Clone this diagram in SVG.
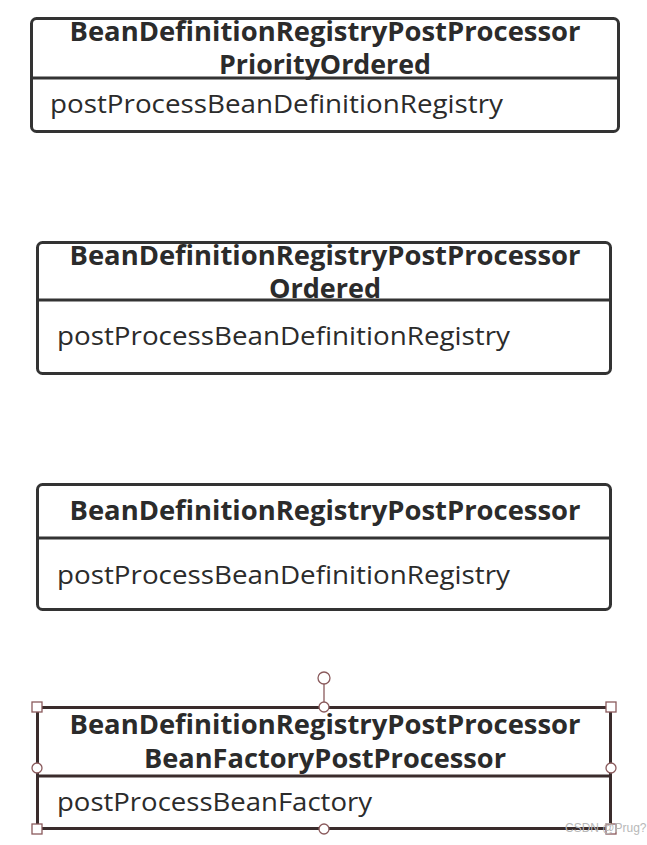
<svg xmlns="http://www.w3.org/2000/svg" width="647" height="845" viewBox="0 0 647 845">
<style>
.box{fill:#fff;stroke:#333;stroke-width:3}
.div{stroke:#333;stroke-width:3}
.t{font-family:"Open Sans","Noto Sans","Liberation Sans",sans-serif;font-size:26px;font-weight:bold;fill:#2b2b2b;text-anchor:middle}
.b{font-family:"Open Sans","Noto Sans","Liberation Sans",sans-serif;font-size:26px;fill:#2b2b2b}
.h{fill:#fff;stroke:#8a5a5c;stroke-width:1.3}
.wm{font-family:"Liberation Sans",sans-serif;font-size:12px;fill:#b8b8b8}
</style>
<rect width="647" height="845" fill="#fff"/>
<g id="node1">
<rect class="box" x="31.5" y="18.5" width="587" height="113" rx="5"/>
<line class="div" x1="31.5" y1="78" x2="618.5" y2="78"/>
<text class="t" x="325" y="41" textLength="511" lengthAdjust="spacingAndGlyphs">BeanDefinitionRegistryPostProcessor</text>
<text class="t" x="325" y="74" textLength="212" lengthAdjust="spacingAndGlyphs">PriorityOrdered</text>
<text class="b" x="50" y="113" textLength="453" lengthAdjust="spacingAndGlyphs">postProcessBeanDefinitionRegistry</text>
</g>
<g id="node2">
<rect class="box" x="37.5" y="242.5" width="573" height="131" rx="5"/>
<line class="div" x1="37.5" y1="300" x2="610.5" y2="300"/>
<text class="t" x="325" y="265" textLength="511" lengthAdjust="spacingAndGlyphs">BeanDefinitionRegistryPostProcessor</text>
<text class="t" x="325" y="298" textLength="112" lengthAdjust="spacingAndGlyphs">Ordered</text>
<text class="b" x="57" y="345" textLength="453" lengthAdjust="spacingAndGlyphs">postProcessBeanDefinitionRegistry</text>
</g>
<g id="node3">
<rect class="box" x="37.5" y="484.5" width="573" height="125" rx="5"/>
<line class="div" x1="37.5" y1="538" x2="610.5" y2="538"/>
<text class="t" x="325" y="520" textLength="511" lengthAdjust="spacingAndGlyphs">BeanDefinitionRegistryPostProcessor</text>
<text class="b" x="57" y="584" textLength="453" lengthAdjust="spacingAndGlyphs">postProcessBeanDefinitionRegistry</text>
</g>
<g id="node4">
<rect class="box" x="37.5" y="707.5" width="573" height="121" style="stroke:#3a2c2c"/>
<line class="div" x1="37.5" y1="776" x2="610.5" y2="776" style="stroke:#3a2c2c"/>
<text class="t" x="325" y="734" textLength="511" lengthAdjust="spacingAndGlyphs">BeanDefinitionRegistryPostProcessor</text>
<text class="t" x="325" y="768" textLength="362" lengthAdjust="spacingAndGlyphs">BeanFactoryPostProcessor</text>
<text class="b" x="57" y="811" textLength="315" lengthAdjust="spacingAndGlyphs">postProcessBeanFactory</text>
</g>
<g id="connectors">
<line x1="324" y1="684" x2="324" y2="707" stroke="#8a5a5c" stroke-width="1.3"/>
</g>
<g id="handles">
<circle class="h" cx="324" cy="678" r="6"/>
<rect class="h" x="32" y="702" width="10" height="10"/>
<rect class="h" x="606" y="702" width="10" height="10"/>
<rect class="h" x="32" y="824" width="10" height="10"/>
<rect class="h" x="606" y="824" width="10" height="10"/>
<circle class="h" cx="324" cy="707" r="5"/>
<circle class="h" cx="324" cy="829" r="5"/>
<circle class="h" cx="37" cy="768" r="5"/>
<circle class="h" cx="611" cy="768" r="5"/>
</g>
<text class="wm" x="565" y="832">CSDN @Prug?</text>
</svg>
